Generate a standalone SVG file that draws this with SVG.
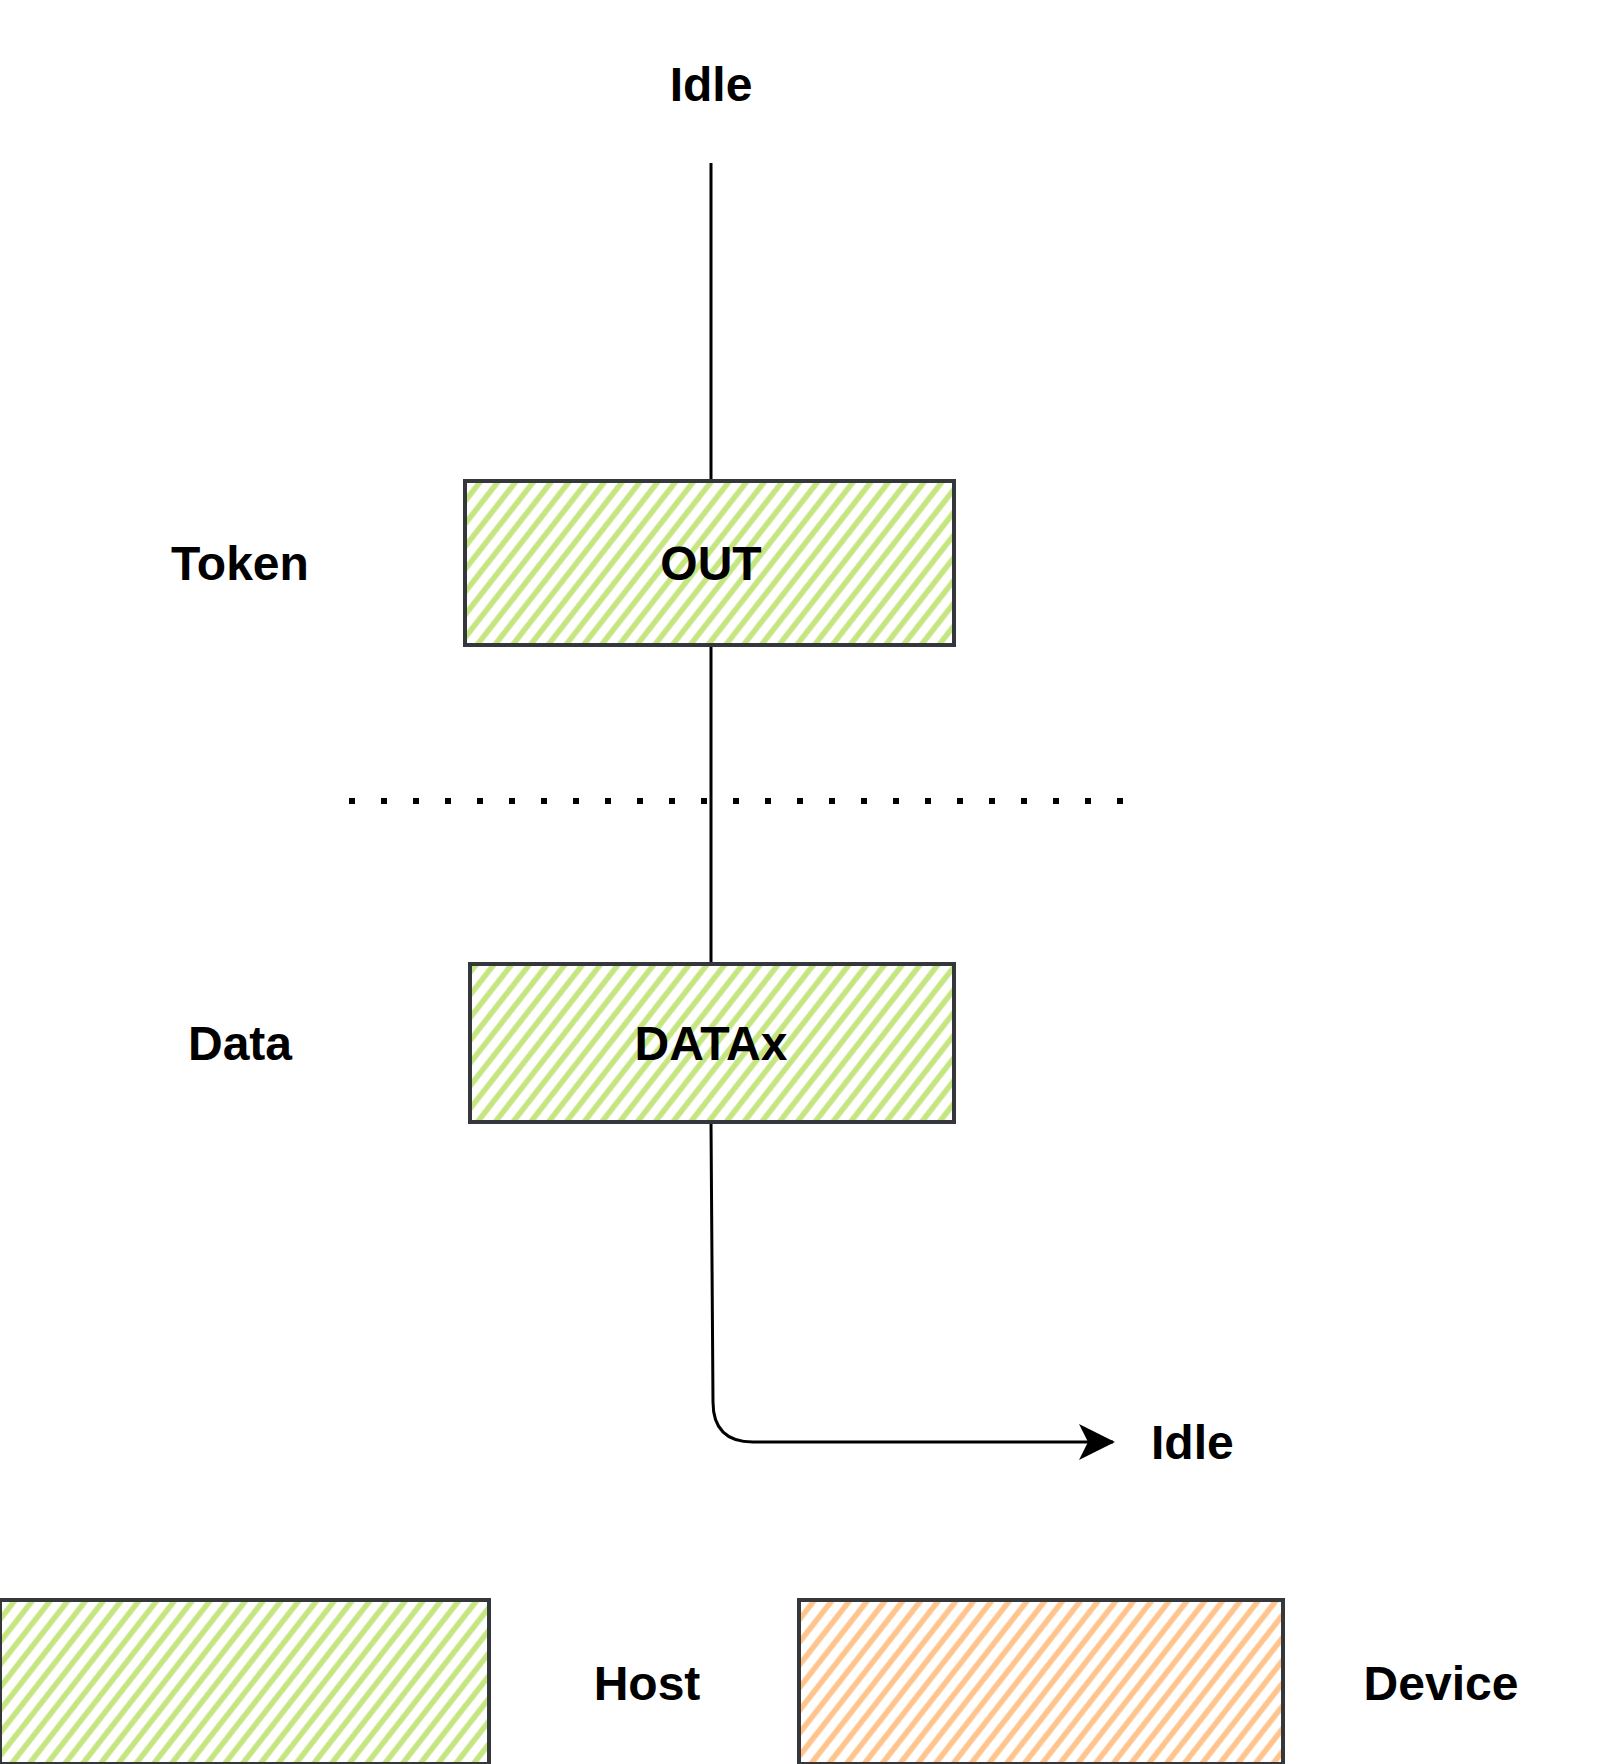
<svg xmlns="http://www.w3.org/2000/svg" width="1608" height="1764" viewBox="0 0 1608 1764">
<style>
text{font-family:"Liberation Sans",Arial,sans-serif;font-weight:bold;font-size:48px;fill:#000;text-anchor:middle;dominant-baseline:central}
.box{stroke:#34383d;stroke-width:4}
.ln{stroke:#000;stroke-width:3;fill:none}
</style>
<defs>
<pattern id="hg" width="14" height="14" patternUnits="userSpaceOnUse" patternTransform="rotate(38)">
<rect width="14" height="14" fill="#fff"/><line x1="3" y1="0" x2="3" y2="14" stroke="#c5e57f" stroke-width="5.5"/>
</pattern>
<pattern id="ho" width="14" height="14" patternUnits="userSpaceOnUse" patternTransform="rotate(38)">
<rect width="14" height="14" fill="#fff"/><line x1="3" y1="0" x2="3" y2="14" stroke="#ffc48c" stroke-width="5.5"/>
</pattern>
<marker id="arr" markerWidth="36" markerHeight="36" refX="34" refY="18" orient="auto" markerUnits="userSpaceOnUse" viewBox="0 0 36 36">
<path d="M0,0 L36,18 L0,36 L9,18 Z" fill="#000"/>
</marker>
</defs>
<text x="711" y="84">Idle</text>
<g id="connectors">
<line class="ln" x1="711" y1="163" x2="711" y2="481"/>
<line class="ln" x1="711" y1="645" x2="711" y2="964"/>
<line x1="349" y1="801" x2="1125" y2="801" stroke="#000" stroke-width="6" stroke-dasharray="6 26"/>
<path class="ln" d="M711,1122 L713,1402 Q713,1442 753,1442 L1113,1442" marker-end="url(#arr)"/>
</g>
<g id="out"><rect class="box" x="465" y="481" width="489" height="164" fill="url(#hg)"/><text x="711" y="563">OUT</text></g>
<g id="token"><text x="240" y="563">Token</text></g>
<g id="datax"><rect class="box" x="470" y="964" width="484" height="158" fill="url(#hg)"/><text x="711" y="1043">DATAx</text></g>
<g id="data"><text x="240" y="1043">Data</text></g>
<g id="idle2"><text x="1151" y="1442" style="text-anchor:start">Idle</text></g>
<g id="host"><rect class="box" x="0" y="1600" width="489" height="164" fill="url(#hg)"/><text x="647" y="1683">Host</text></g>
<g id="device"><rect class="box" x="799" y="1600" width="484" height="164" fill="url(#ho)"/><text x="1441" y="1683">Device</text></g>
</svg>
